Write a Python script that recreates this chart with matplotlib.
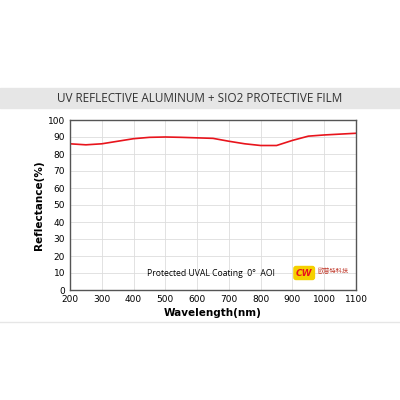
import matplotlib.pyplot as plt
import matplotlib.patches as mpatches

wavelength = [200, 250, 300, 350, 400, 450, 500, 550, 600, 650, 700, 750, 800, 850, 900, 950, 1000, 1050, 1100]
reflectance = [86, 85.4, 86, 87.5, 89, 89.8, 90, 89.8, 89.5, 89.2, 87.5, 86, 85, 85, 88, 90.5, 91.2, 91.7, 92.2]

fig = plt.figure(figsize=(4, 4), dpi=100)
fig.patches.append(mpatches.Rectangle((0, 0.73), 1, 0.05, transform=fig.transFigure,
                                      color='#e6e6e6', zorder=0))
fig.text(0.5, 0.755, "UV REFLECTIVE ALUMINUM + SIO2 PROTECTIVE FILM", ha='center', va='center',
         fontsize=8.5, color='#333333', family='Open Sans')
fig.add_artist(plt.Line2D([0, 1], [0.195, 0.195], color='#e6e6e6', lw=1))

ax = fig.add_axes([0.175, 0.275, 0.715, 0.425])
ax.plot(wavelength, reflectance, color='#e8141c', lw=1.2)
ax.set_xlim(200, 1100)
ax.set_ylim(0, 100)
ax.set_xticks(range(200, 1101, 100))
ax.set_yticks(range(0, 101, 10))
ax.grid(color='#dddddd', lw=0.6)
ax.tick_params(length=0, labelsize=6.5)
for s in ax.spines.values():
    s.set_color('#555555')
    s.set_linewidth(1)
ax.set_xlabel("Wavelength(nm)", fontsize=7.5, fontweight='bold', labelpad=3)
ax.set_ylabel("Reflectance(%)", fontsize=7.5, fontweight='bold', labelpad=3)
ax.text(0.27, 0.1, "Protected UVAL Coating  0°  AOI", transform=ax.transAxes,
        fontsize=6.2, va='center', family='Open Sans')
ax.text(0.79, 0.1, "CW", transform=ax.transAxes, fontsize=6.5, color='#e8141c',
        fontweight='bold', style='italic', va='center',
        bbox=dict(facecolor='#f5d000', edgecolor='none', pad=0.3, boxstyle='round'))
ax.text(0.865, 0.11, "欧普特科技", transform=ax.transAxes, fontsize=4.5, color='#c0392b',
        va='center', family=['Noto Sans CJK SC', 'DejaVu Sans'])

fig.savefig("out.png", dpi=100)
